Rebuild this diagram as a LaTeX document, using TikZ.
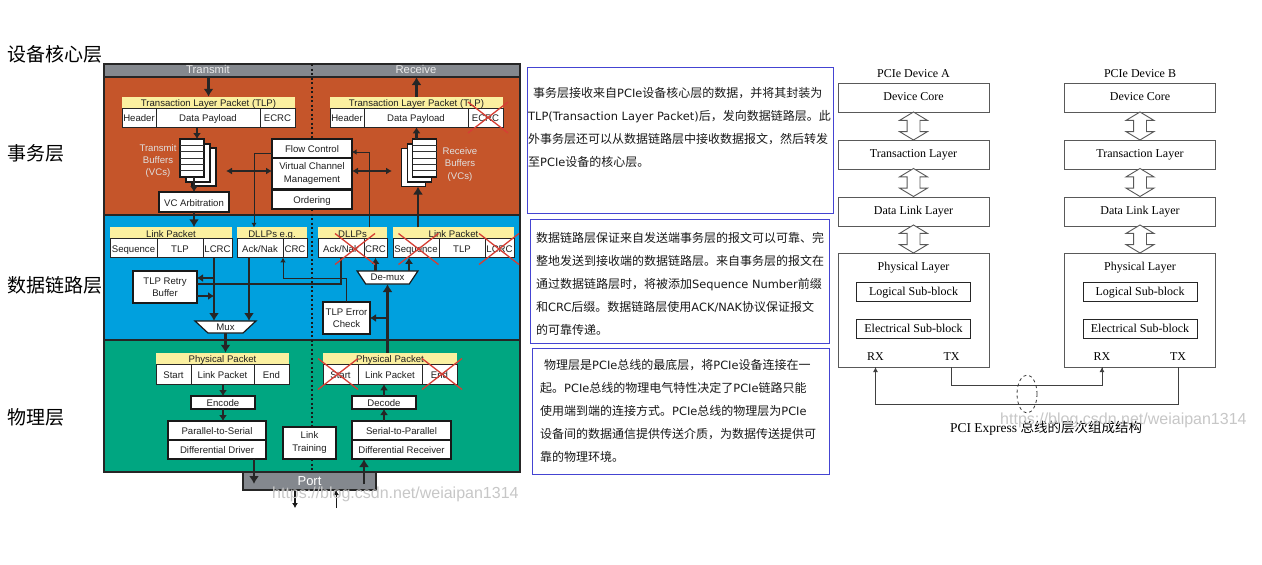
\documentclass[tikz,border=0pt]{standalone}
\usepackage{fontspec}
\setmainfont{Liberation Sans}
\newfontfamily\cjk{Noto Sans CJK SC}
\newfontfamily\dvu[Scale=0.95]{DejaVu Sans}
\newfontfamily\timesf{Liberation Serif}
\newcommand{\lat}[1]{{\dvu #1}}
\usetikzlibrary{positioning,arrows.meta,shapes.geometric,shapes.arrows,shapes.misc}
\definecolor{lorange}{RGB}{197,85,42}
\definecolor{lblue}{RGB}{0,160,222}
\definecolor{lgreen}{RGB}{0,166,129}
\definecolor{lgrey}{RGB}{132,136,142}
\definecolor{lyellow}{RGB}{251,240,160}
\definecolor{xred}{RGB}{214,62,52}
\definecolor{pblue}{RGB}{68,68,210}
\tikzset{
	small/.style = {font=\fontsize{9.6}{12}\selectfont, text=black!88},
	oneline/.style = {text height=8pt, text depth=0pt},
	layer/.style = {draw=black!85, line width=1.4pt, minimum width=416, inner sep=0pt, outer sep=0pt, anchor=north west},
	cell/.style = {small, oneline, draw=black!85, line width=.9pt, fill=white, minimum width=#1, minimum height=19, inner sep=0pt, outer sep=0pt},
	ptitle/.style = {small, oneline, draw=none, fill=lyellow, minimum width=#1, minimum height=11.5, inner sep=0pt, outer sep=0pt},
	thickbox/.style = {small, draw=black!90, line width=1.5pt, fill=white, align=center, inner sep=0pt, outer sep=0pt},
	page/.style = {draw=black!90, line width=1.2pt, fill=white, minimum width=24, minimum height=38, inner sep=0pt, outer sep=0pt},
	bus/.style = {-{Latex[length=8pt,width=10pt]}, line width=2.6pt, black!85},
	mbus/.style = {-{Latex[length=6pt,width=8pt]}, line width=2.2pt, black!85},
	sig/.style = {-{Latex[length=4.5pt,width=5.5pt]}, line width=.9pt, black!85},
	dbus/.style = {{Latex[length=6pt,width=7pt]}-{Latex[length=6pt,width=7pt]}, line width=1.4pt, black!85},
	dots/.style = {line width=2pt, dash pattern=on 2.2pt off 2.3pt, black!90},
	xmark/.style = {cross out, draw=xred, line width=1.3pt, minimum width=40, minimum height=31, inner sep=0pt, outer sep=0pt},
	muxbox/.style = {small, trapezium, shape border rotate=180, trapezium stretches=true, draw=black!90, line width=1.2pt, fill=white, inner sep=0pt, outer sep=0pt},
	panel/.style = {draw=pblue, line width=.8pt, inner sep=0pt, outer sep=0pt, anchor=north west},
	ptext/.style = {font=\cjk\fontsize{12}{23}\selectfont, align=left, anchor=west, inner sep=0pt, text=black!90},
	side/.style = {font=\cjk\fontsize{19}{22}\selectfont, anchor=west, inner sep=0pt},
	lyr/.style = {draw=black!65, line width=1pt, minimum width=151, minimum height=29, inner sep=0pt, outer sep=0pt, font=\timesf\fontsize{12}{14}\selectfont},
	lab/.style = {oneline, font=\timesf\fontsize{12}{14}\selectfont, inner sep=0pt},
	sub/.style = {lyr, oneline, line width=.9pt, draw=black!85, minimum width=114, minimum height=19},
	hollow/.style = {double arrow, rotate=90, draw=black!65, line width=.9pt, fill=white, minimum height=28, inner xsep=0pt, inner ysep=6pt, double arrow head extend=7.5pt, double arrow tip angle=118, outer sep=0pt},
	lnk/.style = {line width=1pt, black!75},
	wmark/.style = {font=\fontsize{16}{18}\selectfont, text=black!22, anchor=west, inner sep=0pt}
}
\begin{document}
\begin{tikzpicture}[x=1pt, y=-1pt]
	\useasboundingbox (0,0) rectangle (1262,565);
	\fill[white] (0,0) rectangle (1262,565);

	\node[side] (corel) at (7,54) {设备核心层};
	\node[side] (transl) at (7,153) {事务层};
	\node[side] (linkll) at (7,285) {数据链路层};
	\node[side] (physl) at (7,417) {物理层};

	\node[layer, fill=lgrey, minimum height=13] (bar) at (104,64) {};
	\node[layer, fill=lorange, minimum height=138] (trans) at (104,77) {};
	\node[layer, fill=lblue, minimum height=125] (link) at (104,215) {};
	\node[layer, fill=lgreen, minimum height=132] (phys) at (104,340) {};
	\node[draw=black!85, line width=1.4pt, fill=lgrey, minimum width=133, minimum height=18, inner sep=0pt, outer sep=0pt] (port) at (309.5,481) {};
	\node[font=\fontsize{13}{15}\selectfont, text=white, oneline, inner sep=0pt] (porttxt) at (port.center) {Port};
	\node[font=\fontsize{11.3}{13}\selectfont, text=black!8, inner sep=0pt, oneline] (txtxt) at (208,69.5) {Transmit};
	\node[font=\fontsize{11.3}{13}\selectfont, text=black!8, inner sep=0pt, oneline] (rxtxt) at (416,69.5) {Receive};

	\draw[dots] (312,64) -- (312,139);
	\draw[dots] (312,209) -- (312,427);
	\draw[dots] (312,459) -- (312,472);

	\node[ptitle=173] (tlpl) at (208.5,102.5) {Transaction Layer Packet (TLP)};
	\node[cell=34, below right=0pt and 0pt of tlpl.south west] (hdrl) {Header};
	\node[cell=104, right=0pt of hdrl] (paylodl) {Data Payload};
	\node[cell=35, right=0pt of paylodl] (ecrcl) {ECRC};
	\node[ptitle=173] (tlpr) at (416.5,102.5) {Transaction Layer Packet (TLP)};
	\node[cell=34, below right=0pt and 0pt of tlpr.south west] (hdrr) {Header};
	\node[cell=104, right=0pt of hdrr] (paylodr) {Data Payload};
	\node[cell=35, right=0pt of paylodr] (ecrcr) {ECRC};

	\node[page] (bufl3) at (204,167) {};
	\node[page] (bufl2) at (198,163) {};
	\node[page] (bufl1) at (192,158) {};
	\node[page] (bufr3) at (413.5,167.5) {};
	\node[page] (bufr2) at (419.5,163) {};
	\node[page] (bufr1) at (424.5,158) {};
	\foreach \k in {1,...,5} {
		\draw[line width=.5pt, black!80] ([yshift=-\k*6.33pt]bufl1.north west) -- ([yshift=-\k*6.33pt]bufl1.north east);
		\draw[line width=.5pt, black!80] ([yshift=-\k*6.33pt]bufr1.north west) -- ([yshift=-\k*6.33pt]bufr1.north east);
	}
	\node[small, text=black!12, align=center, inner sep=0pt] (bufltxt) at (158,161.5) {Transmit\\Buffers\\(VCs)};
	\node[small, text=black!12, align=center, inner sep=0pt] (bufrtxt) at (460,164.5) {Receive\\[.5pt]Buffers\\[.5pt](VCs)};

	\node[thickbox, oneline, minimum width=80, minimum height=19] (fc) at (312,148.5) {Flow Control};
	\node[thickbox, minimum width=80, minimum height=31] (vc) at (312,173.5) {Virtual Channel\\[1pt]Management};
	\node[thickbox, oneline, minimum width=80, minimum height=19] (order) at (312,199.5) {Ordering};
	\node[thickbox, oneline, minimum width=70, minimum height=20] (arb) at (194,202) {VC Arbitration};

	\node[ptitle=122] (linkpl) at (171,233) {Link Packet};
	\node[cell=47, below right=0pt and 0pt of linkpl.south west] (seql) {Sequence};
	\node[cell=46, right=0pt of seql] (tlpcl) {TLP};
	\node[cell=29, right=0pt of tlpcl] (lcrcl) {LCRC};
	\node[ptitle=70] (dllpl) at (272,233) {DLLPs e.g.};
	\node[cell=46, below right=0pt and 0pt of dllpl.south west] (ackl) {Ack/Nak};
	\node[cell=24, right=0pt of ackl] (crcl) {CRC};
	\node[ptitle=69] (dllpr) at (352.5,233) {DLLPs};
	\node[cell=46, below right=0pt and 0pt of dllpr.south west] (ackr) {Ack/Nak};
	\node[cell=23, right=0pt of ackr] (crcr) {CRC};
	\node[ptitle=121] (linkpr) at (453.5,233) {Link Packet};
	\node[cell=46, below right=0pt and 0pt of linkpr.south west] (seqr) {Sequence};
	\node[cell=46, right=0pt of seqr] (tlpcr) {TLP};
	\node[cell=29, right=0pt of tlpcr] (lcrcr) {LCRC};

	\node[thickbox, minimum width=64, minimum height=32] (retry) at (165,287) {TLP Retry\\Buffer};
	\node[thickbox, minimum width=47, minimum height=32] (terr) at (346.5,318) {TLP Error\\Check};
	\node[muxbox, minimum width=61, minimum height=12, trapezium angle=45] (mux) at (225.5,327) {Mux};
	\node[muxbox, minimum width=61, minimum height=13, trapezium angle=45] (demux) at (387.5,277.5) {De-mux};

	\node[ptitle=133] (physpl) at (222.5,358.5) {Physical Packet};
	\node[cell=35, minimum height=20, below right=0pt and 0pt of physpl.south west] (startl) {Start};
	\node[cell=63, minimum height=20, right=0pt of startl] (lpl) {Link Packet};
	\node[cell=35, minimum height=20, right=0pt of lpl] (endl) {End};
	\node[ptitle=134] (physpr) at (390,358.5) {Physical Packet};
	\node[cell=35, minimum height=20, below right=0pt and 0pt of physpr.south west] (startr) {Start};
	\node[cell=64, minimum height=20, right=0pt of startr] (lpr) {Link Packet};
	\node[cell=35, minimum height=20, right=0pt of lpr] (endr) {End};

	\node[thickbox, oneline, minimum width=64, minimum height=13] (enc) at (223,402.5) {Encode};
	\node[thickbox, oneline, minimum width=64, minimum height=13] (dec) at (384,402.5) {Decode};
	\node[thickbox, oneline, minimum width=98, minimum height=19] (p2s) at (217,430.5) {Parallel-to-Serial};
	\node[thickbox, oneline, minimum width=98, minimum height=19] (drv) at (217,449.5) {Differential Driver};
	\node[thickbox, oneline, minimum width=99, minimum height=19] (s2p) at (401.5,430.5) {Serial-to-Parallel};
	\node[thickbox, oneline, minimum width=99, minimum height=19] (rcv) at (401.5,449.5) {Differential Receiver};
	\node[thickbox, minimum width=53, minimum height=32] (train) at (309.5,443) {Link\\[1pt]Training};

	\draw[bus] (tlpl.north |- bar.south) -- (tlpl.north);
	\draw[bus] (tlpr.north) -- (tlpr.north |- bar.south);
	\draw[mbus] ([xshift=5pt]bufl1.north |- paylodl.south) -- ([xshift=5pt]bufl1.north);
	\draw[mbus] (arb.north |- bufl1.south) -- (arb.north);
	\draw[bus] (arb.south) -- (arb.south |- linkpl.north);
	\draw[mbus] (tlpr.north |- bufr1.north) -- (tlpr.north |- paylodr.south);
	\draw[bus] ([xshift=4.5pt]bufr3.south |- linkpr.north) -- ([xshift=4.5pt]bufr3.south);
	\coordinate (vcl) at (226,171);
	\coordinate (vcr) at (392,171);
	\draw[dbus] (vcl) -- (vcl -| vc.west);
	\draw[dbus] (vcr -| vc.east) -- (vcr);
	\coordinate (fcl) at (254,153);
	\coordinate (fcr) at (369,152);
	\draw[sig] (fcl -| fc.west) -- (fcl) -- (fcl |- dllpl.north);
	\draw[sig] (fcr |- dllpr.north) -- (fcr) -- (fcr -| fc.east);

	\draw[bus] ([xshift=-3.5pt]lcrcl.south) -- ([xshift=-3.5pt]lcrcl.south |- mux.north);
	\draw[bus] ([xshift=-11pt]ackl.south) -- ([xshift=-11pt]ackl.south |- mux.north);
	\draw[mbus] ([xshift=-3.5pt,yshift=9pt]lcrcl.south |- retry.east) -- ([yshift=9pt]retry.east);
	\draw[mbus] ([yshift=-9pt]retry.east) -- ([xshift=-3.5pt,yshift=-9pt]lcrcl.south |- retry.east);
	\draw[line width=1.1pt, black!85] (ackr.south) |- ([yshift=3pt]retry.east);
	\coordinate (errbend) at (283,278);
	\draw[sig] (terr.north) |- (errbend) -- (ackl.south east);
	\draw[mbus] (crcr.south |- demux.north) -- (crcr.south);
	\draw[mbus] ([xshift=-7pt]seqr.south |- demux.north) -- ([xshift=-7pt]seqr.south |- seqr.south);
	\draw[bus] (demux.south |- physpr.north) -- (demux.south);
	\draw[mbus] (demux.south |- terr.east) -- (terr.east);
	\draw[bus] (mux.south) -- (mux.south |- physpl.north);

	\draw[mbus] (enc.north |- startl.south) -- (enc.north);
	\draw[mbus] (enc.south) -- (enc.south |- p2s.north);
	\draw[mbus] (dec.north) -- (dec.north |- startr.south);
	\draw[mbus] (dec.north |- s2p.north) -- (dec.south);
	\draw[bus] ([xshift=31pt]enc.south |- drv.south) -- ++(0,25);
	\draw[bus] ([xshift=-37.5pt]rcv.south) ++(0,25) -- ([xshift=-37.5pt]rcv.south);
	\draw[-{Latex[length=5pt,width=6pt]}, line width=1.4pt, black!90] ([xshift=-14.5pt]port.south) -- ++(0,18);
	\draw[-{Latex[length=5pt,width=6pt]}, line width=1pt, black!90] ([xshift=26.5pt,yshift=-18pt]port.south) -- ([xshift=26.5pt]port.south);

	\node[xmark] (xecrc) at (488,117.5) {};
	\node[xmark] (xdllp) at (355,249) {};
	\node[xmark] (xseq) at (418.5,249) {};
	\node[xmark] (xlcrc) at (499,249) {};
	\node[xmark] (xstart) at (338,374) {};
	\node[xmark] (xend) at (442,374) {};

	\node[panel, minimum width=306, minimum height=146] (pt) at (527,67) {};
	\node[panel, minimum width=299, minimum height=124] (pl) at (530,219) {};
	\node[panel, minimum width=297, minimum height=126] (pp) at (532,348) {};
	\node[ptext] (ptt) at (528,127.5) {\hspace*{5pt}事务层接收来自\lat{PCIe}设备核心层的数据，并将其封装为\\\lat{TLP(Transaction Layer Packet)}后，发向数据链路层。此\\外事务层还可以从数据链路层中接收数据报文，然后转发\\至\lat{PCIe}设备的核心层。};
	\node[ptext] (plt) at (536,283.5) {数据链路层保证来自发送端事务层的报文可以可靠、完\\整地发送到接收端的数据链路层。来自事务层的报文在\\通过数据链路层时，将被添加\lat{Sequence Number}前缀\\和\lat{CRC}后缀。数据链路层使用\lat{ACK/NAK}协议保证报文\\的可靠传递。};
	\node[ptext] (ppt) at (540,411) {\hspace*{4pt}物理层是\lat{PCIe}总线的最底层，将\lat{PCIe}设备连接在一\\起。\lat{PCIe}总线的物理电气特性决定了\lat{PCIe}链路只能\\使用端到端的连接方式。\lat{PCIe}总线的物理层为\lat{PCIe}\\设备间的数据通信提供传送介质，为数据传送提供可\\靠的物理环境。};

	\foreach \d/\x/\t in {a/913.5/A, b/1140/B} {
		\node[lab] (name\d) at (\x,73) {PCIe Device \t};
		\node[lyr, anchor=north] (core\d) at (\x,83) {};
		\node[lab] at (\x,96) {Device Core};
		\node[lyr, anchor=north] (tran\d) at (\x,140) {};
		\node[lab] at (\x,153) {Transaction Layer};
		\node[lyr, anchor=north] (dlnk\d) at (\x,197) {};
		\node[lab] at (\x,210) {Data Link Layer};
		\node[lyr, anchor=north, minimum height=114] (phy\d) at (\x,253) {};
		\node[lab] at (\x,266) {Physical Layer};
		\node[sub, anchor=north] (log\d) at (\x,282) {Logical Sub-block};
		\node[sub, anchor=north] (ele\d) at (\x,319) {Electrical Sub-block};
		\node[lab] (rx\d) at (\x-38,356) {RX};
		\node[lab] (tx\d) at (\x+38,356) {TX};
		\node[hollow] (arra\d) at (\x,126) {};
		\node[hollow] (arrb\d) at (\x,182.5) {};
		\node[hollow] (arrc\d) at (\x,239) {};
	}
	\draw[lnk] (txa |- phya.south) -- ++(0,18) -| (rxb |- phyb.south);
	\draw[lnk] (txb |- phyb.south) -- ++(0,37) -| (rxa |- phya.south);
	\draw[-{Latex[length=5pt,width=5pt]}, line width=1pt, black!75] ([yshift=-8pt]rxb |- phyb.south) -- (rxb |- phyb.south);
	\draw[-{Latex[length=5pt,width=5pt]}, line width=1pt, black!75] ([yshift=-8pt]rxa |- phya.south) -- (rxa |- phya.south);
	\node[ellipse, draw=black!80, dashed, line width=.8pt, minimum width=20, minimum height=38, inner sep=0pt] (bundle) at (1027,394) {};
	\node[font=\timesf\fontsize{13.5}{15}\selectfont, inner sep=0pt] (caption) at (1046,428) {PCI Express {\cjk 总线的层次组成结构}};

	\node[wmark] (wm1) at (272,494) {https://blog.csdn.net/weiaipan1314};
	\node[wmark] (wm2) at (1000,420) {https://blog.csdn.net/weiaipan1314};
\end{tikzpicture}
\end{document}
